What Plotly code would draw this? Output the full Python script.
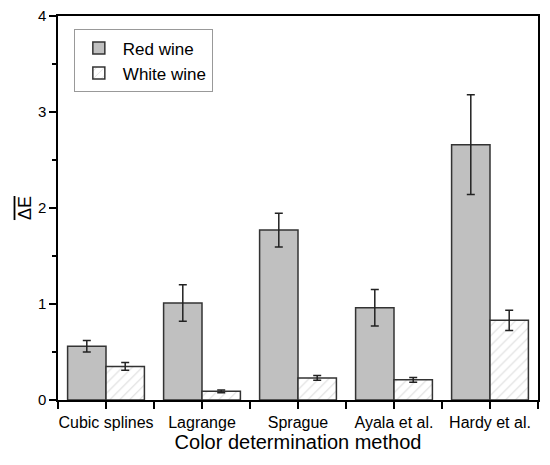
import plotly.graph_objects as go

methods = ["Cubic splines", "Lagrange", "Sprague", "Ayala et al.", "Hardy et al."]
red_mean = [0.56, 1.01, 1.77, 0.96, 2.66]
red_err = [0.06, 0.19, 0.175, 0.19, 0.52]
white_mean = [0.35, 0.09, 0.23, 0.21, 0.83]
white_err = [0.04, 0.015, 0.025, 0.025, 0.105]

xpos = list(range(len(methods)))
font = "Liberation Sans, Arial, sans-serif"

fig = go.Figure()
fig.add_trace(go.Bar(
    x=xpos, y=red_mean, name="Red wine",
    marker=dict(color="#c0c0c0", line=dict(color="#333333", width=1.5)),
    error_y=dict(type="data", array=red_err, color="#222222", thickness=1.5, width=4),
))
fig.add_trace(go.Bar(
    x=xpos, y=white_mean, name="White wine",
    marker=dict(color="white", line=dict(color="#333333", width=1.5),
                pattern=dict(shape="/", fgcolor="#b8b8b8", bgcolor="white",
                             size=7, solidity=0.15)),
    error_y=dict(type="data", array=white_err, color="#222222", thickness=1.5, width=4),
))

# page body adds an 8px offset, so the figure is sized a bit smaller
fig.update_layout(
    template="simple_white",
    width=542, height=457,
    margin=dict(l=50, r=12, t=8, b=65),
    paper_bgcolor="white", plot_bgcolor="white",
    barmode="group", bargap=0.2, bargroupgap=0,
    font=dict(family=font, color="black", size=16),
    showlegend=True,
    legend=dict(x=0.033, y=0.965, xanchor="left", yanchor="top",
                bordercolor="#999999", borderwidth=1, bgcolor="white",
                font=dict(size=17), tracegroupgap=0, itemwidth=38),
)
fig.update_xaxes(
    range=[-0.5, 4.5], tickvals=xpos, ticktext=methods, automargin=False,
    showline=True, linecolor="black", linewidth=1.5, mirror=True,
    ticks="outside", ticklen=7, tickwidth=1.5, tickcolor="black",
    minor=dict(tick0=-0.5, dtick=1, ticks="outside", ticklen=7, tickwidth=1.5, tickcolor="black"),
    showgrid=False, zeroline=False,
    title=dict(text="Color determination method", font=dict(size=20), standoff=0),
    tickfont=dict(size=16),
)
fig.update_yaxes(
    range=[0, 4], dtick=1, automargin=False, ticklabeloverflow="allow",
    showline=True, linecolor="black", linewidth=1.5, mirror=True,
    ticks="outside", ticklen=7, tickwidth=1.5, tickcolor="black",
    minor=dict(dtick=0.5, ticks="outside", ticklen=4, tickwidth=1.5, tickcolor="black"),
    showgrid=False, zeroline=False,
    title=dict(text="<span style='text-decoration:overline'>ΔE</span>", font=dict(size=18), standoff=2),
    tickfont=dict(size=15),
)

fig.write_html("out.html")
